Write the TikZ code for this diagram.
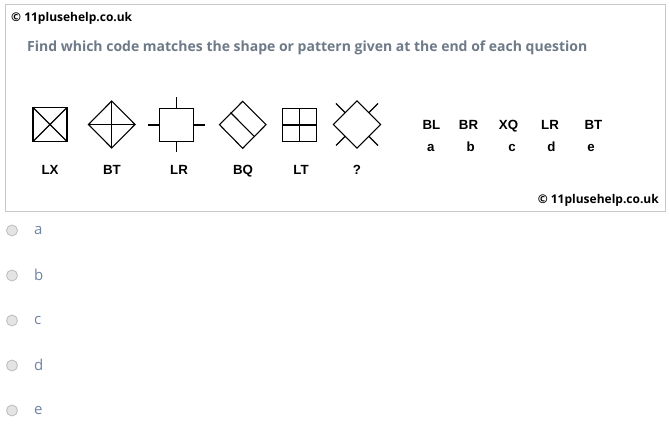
\documentclass[tikz,border=0pt]{standalone}
\usepackage{fontspec}
\setmainfont{Liberation Sans}
\newfontfamily\os{Open Sans}
\definecolor{frame}{HTML}{C8C8C8}
\definecolor{titlegray}{HTML}{6E7A88}
\definecolor{optblue}{HTML}{7084A4}
\definecolor{radiofill}{HTML}{E4E4E4}
\definecolor{radioedge}{HTML}{BDBDBD}
\tikzset{
  shp/.style={draw=black, line width=1.1pt},
  lbl/.style={font=\bfseries\fontsize{13.3}{13}\selectfont, anchor=base, inner sep=0pt},
  code/.style={font=\bfseries\fontsize{13.3}{13}\selectfont, anchor=base, inner sep=0pt},
  radio/.style={circle, draw=radioedge, fill=radiofill, minimum size=11pt, inner sep=0pt, line width=0.8pt},
  opt/.style={font=\os\fontsize{15}{15}\selectfont, text=optblue, anchor=west, inner sep=0pt},
}
\begin{document}
\begin{tikzpicture}[x=1pt,y=-1pt]
\useasboundingbox (0,0) rectangle (670,438);
\fill[white] (0,0) rectangle (670,438);
\draw[frame, line width=1pt] (5,4.5) rectangle (665,212);
\node[font=\os\bfseries\fontsize{12}{12}\selectfont, anchor=west, inner sep=0pt] (hdr) at (11,18) {© 11plusehelp.co.uk};
\node[font=\os\bfseries\fontsize{14}{14}\selectfont, text=titlegray, anchor=west, inner sep=0pt] (title) at (27,47.5) {Find which code matches the shape or pattern given at the end of each question};
% LX
\draw[shp] (33,107.5) rectangle (67,141.5);
\draw[shp] (33,107.5) -- (67,141.5) (33,141.5) -- (67,107.5);
% BT
\draw[shp] (88.5,124.5) -- (111.7,101) -- (135,124.5) -- (111.7,148) -- cycle;
\draw[shp] (88.5,124.5) -- (135,124.5) (111.7,101) -- (111.7,148);
% LR
\draw[shp] (159.5,108.3) rectangle (193.3,141.7);
\draw[shp] (176.4,97.5) -- (176.4,108.3) (176.4,141.7) -- (176.4,152) (148.3,125) -- (159.5,125) (193.3,125) -- (204.5,125);
% BQ
\draw[shp] (219.5,124.7) -- (242.7,101.3) -- (266,124.7) -- (242.7,148.3) -- cycle;
\draw[shp] (230.6,112.6) -- (254.2,136.3);
% LT
\draw[shp] (282.8,108.3) rectangle (316.7,141.7);
\draw[shp] (299.7,108.3) -- (299.7,141.7) (282.8,125) -- (316.7,125);
% ?
\draw[shp] (333.3,124.5) -- (357,100.8) -- (380.7,124.5) -- (357,148.2) -- cycle;
\draw[shp] (345.2,112.7) -- (336,103.5) (368.8,112.7) -- (378,103.5) (345.2,136.3) -- (336,145.5) (368.8,136.3) -- (378,145.5);
% labels
\node[lbl] (l1) at (50,174.3) {LX};
\node[lbl] (l2) at (112,174.3) {BT};
\node[lbl] (l3) at (179,174.3) {LR};
\node[lbl] (l4) at (243,174.3) {BQ};
\node[lbl] (l5) at (301,174.3) {LT};
\node[lbl] (l6) at (357,174.3) {?};
% codes
\node[code] (c1) at (431.5,130) {BL};
\node[code] (c2) at (468.5,130) {BR};
\node[code] (c3) at (508.5,130) {XQ};
\node[code] (c4) at (550,130) {LR};
\node[code] (c5) at (593.5,130) {BT};
\node[code] (d1) at (430.7,151.7) {a};
\node[code] (d2) at (470.7,151.7) {b};
\node[code] (d3) at (512,151.7) {c};
\node[code] (d4) at (551.5,151.7) {d};
\node[code] (d5) at (591,151.7) {e};
\node[font=\os\bfseries\fontsize{12}{12}\selectfont, anchor=east, inner sep=0pt] (ftr) at (659,200) {© 11plusehelp.co.uk};
% options
\node[radio] (r1) at (12,230.5) {};
\node[opt] (o1) at (34,230) {a};
\node[radio] (r2) at (12,275.5) {};
\node[opt] (o2) at (34,275) {b};
\node[radio] (r3) at (12,320.5) {};
\node[opt] (o3) at (34,320) {c};
\node[radio] (r4) at (12,365.5) {};
\node[opt] (o4) at (34,365) {d};
\node[radio] (r5) at (12,410.5) {};
\node[opt] (o5) at (34,410) {e};
\end{tikzpicture}
\end{document}
